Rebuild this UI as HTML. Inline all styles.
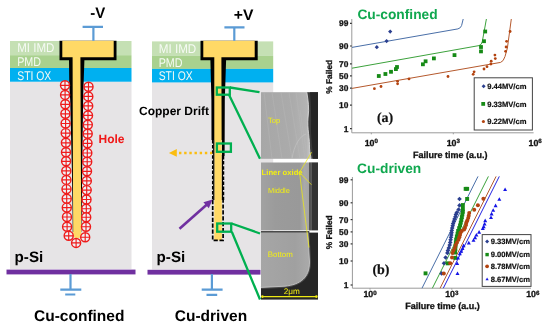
<!DOCTYPE html>
<html><head><meta charset="utf-8">
<style>
html,body{margin:0;padding:0;background:#fff;}
body{width:550px;height:328px;overflow:hidden;}
svg{display:block;font-family:"Liberation Sans",Arial,sans-serif;text-rendering:geometricPrecision;}
.b{font-weight:bold;}
</style></head><body>
<svg width="550" height="328" viewBox="0 0 550 328">
<defs>
<g id="hole"><circle r="4.5" fill="#eff1f6" stroke="#ee1c1c" stroke-width="1.45"/><path d="M-4.5 0H4.5M0 -4.5V4.5" stroke="#ee1c1c" stroke-width="1.15"/></g>
</defs>
<!-- ============ LEFT DIAGRAM ============ -->
<rect x="10" y="81.5" width="121.5" height="187.5" fill="#e6e4e6"/>
<rect x="10" y="41" width="121.5" height="14.2" fill="#c5e0b4"/>
<rect x="10" y="55.2" width="121.5" height="12.8" fill="#a9d18e"/>
<rect x="10" y="68" width="121.5" height="13.7" fill="#00b0f0"/>
<g font-size="12.6" fill="#f6faf4" lengthAdjust="spacingAndGlyphs">
<text x="17.2" y="52.2" textLength="37.3" lengthAdjust="spacingAndGlyphs">MI IMD</text><text x="17.2" y="65.7" textLength="23.9" lengthAdjust="spacingAndGlyphs">PMD</text><text x="17.2" y="79.6" textLength="34.1" lengthAdjust="spacingAndGlyphs">STI OX</text>
</g>
<!-- T -->
<path d="M59.5 40.7H116.5V60.3H84.4L83.2 95L82.2 170L81.7 215L81.3 232H72.7L72.6 215L71.9 170L70.2 100L69.3 85L69 60.3H59.5Z" fill="#000"/>
<path d="M62.3 40.7H113.7V57.2H80.4L80.9 170L81.3 236Q77.2 241 73.2 236L72.9 170L72.6 57.2H62.3Z" fill="#ffd966"/>
<!-- holes left col -->
<g>
<use href="#hole" x="65.0" y="85.3"/><use href="#hole" x="65.1" y="94.9"/><use href="#hole" x="65.3" y="104.3"/><use href="#hole" x="65.4" y="113.8"/><use href="#hole" x="65.6" y="123.5"/><use href="#hole" x="65.7" y="133.1"/><use href="#hole" x="65.9" y="142.8"/><use href="#hole" x="66.0" y="152.3"/><use href="#hole" x="66.1" y="161.3"/><use href="#hole" x="66.3" y="170.9"/><use href="#hole" x="66.4" y="179.9"/><use href="#hole" x="66.5" y="189.1"/><use href="#hole" x="66.7" y="198.7"/><use href="#hole" x="66.8" y="207.6"/><use href="#hole" x="67.0" y="217"/><use href="#hole" x="67.1" y="226.7"/><use href="#hole" x="68.7" y="235.8"/>
</g>
<g>
<use href="#hole" x="88.5" y="86.8"/><use href="#hole" x="88.3" y="96.4"/><use href="#hole" x="88.2" y="105.9"/><use href="#hole" x="88.0" y="115.4"/><use href="#hole" x="87.8" y="124.7"/><use href="#hole" x="87.7" y="133.8"/><use href="#hole" x="87.5" y="143.3"/><use href="#hole" x="87.3" y="153"/><use href="#hole" x="87.2" y="161.7"/><use href="#hole" x="87.0" y="171.3"/><use href="#hole" x="86.8" y="180.9"/><use href="#hole" x="86.7" y="190.1"/><use href="#hole" x="86.5" y="199.5"/><use href="#hole" x="86.3" y="208.7"/><use href="#hole" x="86.2" y="217.2"/><use href="#hole" x="86.0" y="226.7"/><use href="#hole" x="85.2" y="237.2"/>
</g>
<use href="#hole" x="76.1" y="242.9"/>
<text x="98.5" y="142.8" font-size="12" class="b" fill="#f01818">Hole</text>
<!-- voltage -->
<text x="90.2" y="18.2" font-size="15.4" class="b" fill="#000" textLength="15" lengthAdjust="spacingAndGlyphs">-V</text>
<path d="M82.6 26.9H103M93.4 27V40.7" stroke="#5b9bd5" stroke-width="2.2" fill="none"/>
<text x="14.6" y="262.3" font-size="15.2" class="b" fill="#000">p-Si</text>
<rect x="6.5" y="269.6" width="129" height="4.8" fill="#7030a0"/>
<path d="M70.5 274V289.6M60.3 289.6H81.3M65.2 294.5H75.3" stroke="#5b9bd5" stroke-width="2.2" fill="none"/>
<text x="34" y="321" font-size="15.5" class="b" fill="#000">Cu-confined</text>

<!-- ============ MIDDLE DIAGRAM ============ -->
<rect x="152" y="82.2" width="121.2" height="187.3" fill="#e6e4e6"/>
<rect x="152" y="41.4" width="121.2" height="14.5" fill="#c5e0b4"/>
<rect x="152" y="55.9" width="121.2" height="13" fill="#a9d18e"/>
<rect x="152" y="68.9" width="121.2" height="13.5" fill="#00b0f0"/>
<g font-size="12.6" fill="#f6faf4">
<text x="158.7" y="52.9" textLength="37.6" lengthAdjust="spacingAndGlyphs">MI IMD</text><text x="158.7" y="66.6" textLength="23.9" lengthAdjust="spacingAndGlyphs">PMD</text><text x="158.7" y="80.4" textLength="34" lengthAdjust="spacingAndGlyphs">STI OX</text>
</g>
<path d="M200.5 40.7H257.7V60.3H226.1L224.8 100L224.6 156H221.9V140H211.5L211.4 100L210.4 60.3H200.5Z" fill="#000"/>
<path d="M203.3 40.7H254.7V57.2H221.4L221.9 240.3H214.3L214.3 57.2H203.3Z" fill="#ffd966"/>
<path d="M213.75 140V200M222.45 155V200" stroke="#000" stroke-width="1.2" fill="none"/>
<path d="M212.6 140V200M223.6 156V200" stroke="#000" stroke-width="1.3" stroke-dasharray="3.5 1.6" fill="none"/>
<path d="M212.7 200V240.4H223.1V200" fill="none" stroke="#000" stroke-width="1.7" stroke-dasharray="4.2 1.7"/>
<text x="233.8" y="19.9" font-size="15.3" class="b" fill="#000" textLength="19.6" lengthAdjust="spacingAndGlyphs">+V</text>
<path d="M224.4 27.3H244.5M234.3 27.4V40.7" stroke="#5b9bd5" stroke-width="2.2" fill="none"/>
<text x="139" y="114.5" font-size="12" class="b" fill="#000">Copper Drift</text>
<!-- orange dotted arrow -->
<path d="M179 153H212.2" stroke="#fbbd10" stroke-width="2.4" stroke-dasharray="2.4 2.77" fill="none"/>
<path d="M168.9 153L176.8 149.1V156.7Z" fill="#fbbd10"/>
<!-- purple arrow -->
<path d="M179.5 228.8L207.5 204" stroke="#7030a0" stroke-width="2.6" fill="none"/>
<path d="M212.6 199.5L203.4 202.2L208.8 208.2Z" fill="#7030a0"/>
<text x="156.6" y="262.3" font-size="15.2" class="b" fill="#000">p-Si</text>
<rect x="147.5" y="269.8" width="113" height="4.8" fill="#7030a0"/>
<path d="M211.9 274V289.6M201.7 289.6H222.6M206.5 294.8H217.2" stroke="#5b9bd5" stroke-width="2.2" fill="none"/>
<text x="174.8" y="321" font-size="15.5" class="b" fill="#000">Cu-driven</text>

<!-- SEM -->
<g id="sem">
<defs>
<linearGradient id="g1" x1="0" x2="1" y1="0" y2="0"><stop offset="0" stop-color="#a7a7a7"/><stop offset="0.55" stop-color="#ababab"/><stop offset="0.8" stop-color="#b4b4b4"/><stop offset="0.86" stop-color="#c6c6c6"/></linearGradient>
<linearGradient id="g2" x1="0" x2="1" y1="0" y2="0"><stop offset="0" stop-color="#a2a2a2"/><stop offset="0.25" stop-color="#9b9b9b"/><stop offset="0.68" stop-color="#999999"/><stop offset="0.76" stop-color="#aaaaaa"/><stop offset="0.84" stop-color="#a4a4a4"/></linearGradient>
<linearGradient id="g3" x1="0" x2="1" y1="0" y2="0"><stop offset="0" stop-color="#a6a6a6"/><stop offset="0.7" stop-color="#a0a0a0"/><stop offset="1" stop-color="#aaaaaa"/></linearGradient>
</defs>
<rect x="261" y="92.2" width="57" height="66.6" fill="url(#g1)"/>
<path d="M264 92.2L272 158.8M272 92.2L282 158.8M281 92.2L292 158.8M289 92.2L300 158.8M296 92.2L305 158.8M300 110L306 150" stroke="#bababa" stroke-width="0.7" opacity="0.6" fill="none"/>
<path d="M292 158.8C294 145 300 136 306 134" stroke="#c8c8c8" stroke-width="0.8" fill="none" opacity="0.7"/>
<path d="M306.8 92.2C308 100 309.5 108 308 118C307 128 310 140 309.5 148C309.8 153 311 156 311 158.8H318V92.2Z" fill="#3c3c3c"/>
<path d="M310 92.2C311 105 311.5 118 311 130C311.5 145 313 152 313 158.8H318V92.2Z" fill="#252525"/>
<path d="M306.8 92.2C308 100 309.5 108 308 118C307 128 310 140 309.5 148C309.8 153 311 156 311 158.8" stroke="#d8d8d8" stroke-width="0.9" fill="none"/>
<rect x="261" y="162.5" width="57" height="67.8" fill="url(#g2)"/>
<rect x="309" y="162.5" width="2.6" height="67.8" fill="#545454"/>
<rect x="311.6" y="162.5" width="6.4" height="67.8" fill="#333"/>
<rect x="261" y="232.6" width="57" height="67" fill="#262626"/>
<path d="M261 232.6H307.8L309.5 262C309.5 278 300 284.5 285 286.2L261 287.4" fill="none" stroke="#4a4a4a" stroke-width="3.2"/>
<path d="M261 232.6H307.8L309.5 262C309.5 278 300 284.5 285 286.2L261 287.4Z" fill="url(#g3)"/>
<path d="M307.8 232.6L309.5 262C309.5 278 300 284.5 285 286.2L261 287.4" stroke="#c4c4c4" stroke-width="0.9" fill="none"/>
<g fill="#f2ee14" font-size="7">
<text x="268" y="123.2" font-size="7.6">Top</text>
<text x="268" y="193.1" font-size="7.4">Middle</text>
<text x="267.8" y="256.8" font-size="7.9">Bottom</text>
<text x="261.6" y="174.6" font-size="7.7" class="b">Liner oxide</text>
<text x="283.7" y="294.4" font-size="8.2">2μm</text>
</g>
<path d="M299.5 172.5L311.6 152.2M299.5 172.5L311.4 184.7M299.5 172.5L309 247.5" stroke="#eeea14" stroke-width="0.75" fill="none"/>
<path d="M262 296.6H316.8" stroke="#eeea14" stroke-width="1.3"/>
<circle cx="262.4" cy="296.6" r="1.3" fill="#eeea14"/><circle cx="316.4" cy="296.6" r="1.3" fill="#eeea14"/>
</g>
<!-- green zoom squares & lines -->
<g stroke="#00b050" stroke-width="2.3" fill="none">
<rect x="216.8" y="87.5" width="13" height="7.2"/>
<rect x="216.9" y="143.5" width="14" height="8.3"/>
<rect x="217.2" y="223.5" width="14" height="8.2"/>
<path d="M230 87.5L259.5 92.2M229 94.7L260 158.7M231.6 223.5L260 233.5M231.8 231.7L260 299.5"/>
</g>

<!-- ============ CHART A ============ -->
<text x="357.4" y="18.8" font-size="13.75" class="b" fill="#10a84f">Cu-confined</text>
<!--CHART-->
<path d="M351.8 19V132.8H533.6" stroke="#9a9a9a" stroke-width="1" fill="none"/>
<path d="M350.0 23.4H351.8" stroke="#333" stroke-width="1.2"/>
<text x="348.3" y="26.299999999999997" font-size="8.4" text-anchor="end" fill="#111" font-weight="bold" stroke="#111" stroke-width="0.3">99</text>
<path d="M350.0 46H351.8" stroke="#333" stroke-width="1.2"/>
<text x="348.3" y="48.9" font-size="8.4" text-anchor="end" fill="#111" font-weight="bold" stroke="#111" stroke-width="0.3">90</text>
<path d="M350.0 63.8H351.8" stroke="#333" stroke-width="1.2"/>
<text x="348.3" y="66.7" font-size="8.4" text-anchor="end" fill="#111" font-weight="bold" stroke="#111" stroke-width="0.3">70</text>
<path d="M350.0 75.8H351.8" stroke="#333" stroke-width="1.2"/>
<text x="348.3" y="78.7" font-size="8.4" text-anchor="end" fill="#111" font-weight="bold" stroke="#111" stroke-width="0.3">50</text>
<path d="M350.0 88.2H351.8" stroke="#333" stroke-width="1.2"/>
<text x="348.3" y="91.10000000000001" font-size="8.4" text-anchor="end" fill="#111" font-weight="bold" stroke="#111" stroke-width="0.3">30</text>
<path d="M350.0 105.1H351.8" stroke="#333" stroke-width="1.2"/>
<text x="348.3" y="108.0" font-size="8.4" text-anchor="end" fill="#111" font-weight="bold" stroke="#111" stroke-width="0.3">10</text>
<path d="M350.0 128.6H351.8" stroke="#333" stroke-width="1.2"/>
<text x="348.3" y="131.5" font-size="8.4" text-anchor="end" fill="#111" font-weight="bold" stroke="#111" stroke-width="0.3">1</text>
<path d="M371.3 132.8V134.3" stroke="#9a9a9a" stroke-width="1"/>
<text x="371.3" y="145.6" font-size="8.8" text-anchor="middle" fill="#111" font-weight="bold" stroke="#111" stroke-width="0.3">10<tspan font-size="6.2" dy="-2.7">0</tspan></text>
<path d="M453.3 132.8V134.3" stroke="#9a9a9a" stroke-width="1"/>
<text x="453.3" y="145.6" font-size="8.8" text-anchor="middle" fill="#111" font-weight="bold" stroke="#111" stroke-width="0.3">10<tspan font-size="6.2" dy="-2.7">3</tspan></text>
<text x="535.2" y="145.6" font-size="8.8" text-anchor="middle" fill="#111" font-weight="bold" stroke="#111" stroke-width="0.3">10<tspan font-size="6.2" dy="-2.7">6</tspan></text>
<path d="M352 47.4L457.9 28.9Q460.8 28.2 461.6 25.5L463.2 19" stroke="#4a6fa8" stroke-width="1" fill="none"/>
<path d="M352 68.2L479 45.6Q481.6 45 482.3 41.5L486.4 19" stroke="#3ca23c" stroke-width="1" fill="none"/>
<path d="M352 88.4L500.6 62.4Q503.5 61.5 505 56.5L507.4 48L511.3 19" stroke="#b5592d" stroke-width="1" fill="none"/>
<path d="M376.8 45.1L378.9 47.2L376.8 49.3L374.7 47.2Z" fill="#2b3f8f"/>
<path d="M386.6 39.0L388.7 41.1L386.6 43.2L384.5 41.1Z" fill="#2b3f8f"/>
<path d="M390.2 29.5L392.3 31.6L390.2 33.7L388.1 31.6Z" fill="#2b3f8f"/>
<rect x="376.9" y="74.1" width="3.8" height="3.8" fill="#168a16"/>
<rect x="383.5" y="72.1" width="3.8" height="3.8" fill="#168a16"/>
<rect x="389.1" y="69.9" width="3.8" height="3.8" fill="#168a16"/>
<rect x="394.0" y="67.2" width="3.8" height="3.8" fill="#168a16"/>
<rect x="395.1" y="65.1" width="3.8" height="3.8" fill="#168a16"/>
<rect x="421.0" y="62.4" width="3.8" height="3.8" fill="#168a16"/>
<rect x="423.7" y="59.4" width="3.8" height="3.8" fill="#168a16"/>
<rect x="432.0" y="56.5" width="3.8" height="3.8" fill="#168a16"/>
<rect x="452.6" y="53.2" width="3.8" height="3.8" fill="#168a16"/>
<rect x="479.1" y="49.5" width="3.8" height="3.8" fill="#168a16"/>
<rect x="479.1" y="45.1" width="3.8" height="3.8" fill="#168a16"/>
<rect x="482.1" y="39.3" width="3.8" height="3.8" fill="#168a16"/>
<rect x="483.3" y="29.6" width="3.8" height="3.8" fill="#168a16"/>
<circle cx="374.4" cy="88.7" r="1.4" fill="#b3430f"/>
<circle cx="381.0" cy="86.5" r="1.4" fill="#b3430f"/>
<circle cx="397.6" cy="83.8" r="1.4" fill="#b3430f"/>
<circle cx="397.6" cy="81.3" r="1.4" fill="#b3430f"/>
<circle cx="409.0" cy="78.9" r="1.4" fill="#b3430f"/>
<circle cx="448.0" cy="76.5" r="1.4" fill="#b3430f"/>
<circle cx="473.2" cy="74.3" r="1.4" fill="#b3430f"/>
<circle cx="474.1" cy="71.8" r="1.4" fill="#b3430f"/>
<circle cx="484.0" cy="69.0" r="1.4" fill="#b3430f"/>
<circle cx="487.0" cy="66.7" r="1.4" fill="#b3430f"/>
<circle cx="490.9" cy="64.0" r="1.4" fill="#b3430f"/>
<circle cx="491.2" cy="61.2" r="1.4" fill="#b3430f"/>
<circle cx="495.3" cy="58.6" r="1.4" fill="#b3430f"/>
<circle cx="494.9" cy="55.1" r="1.4" fill="#b3430f"/>
<circle cx="505.6" cy="51.3" r="1.4" fill="#b3430f"/>
<circle cx="506.1" cy="47.0" r="1.4" fill="#b3430f"/>
<circle cx="506.6" cy="41.3" r="1.4" fill="#b3430f"/>
<circle cx="510.1" cy="31.5" r="1.4" fill="#b3430f"/>
<rect x="474.2" y="77.8" width="58.2" height="52.2" fill="#fff" stroke="#444" stroke-width="1"/>
<path d="M483.6 84.3L485.6 86.3L483.6 88.3L481.6 86.3Z" fill="#2b3f8f"/>
<rect x="481.3" y="102.0" width="3.8" height="3.8" fill="#168a16"/>
<circle cx="483.4" cy="121.5" r="1.55" fill="#b3430f"/>
<text x="487.2" y="89" font-size="7.6" text-anchor="start" fill="#111" font-weight="bold" stroke="#111" stroke-width="0.2">9.44MV/cm</text>
<text x="487.2" y="106.6" font-size="7.6" text-anchor="start" fill="#111" font-weight="bold" stroke="#111" stroke-width="0.2">9.33MV/cm</text>
<text x="487.2" y="124.2" font-size="7.6" text-anchor="start" fill="#111" font-weight="bold" stroke="#111" stroke-width="0.2">9.22MV/cm</text>
<text x="376.9" y="121.8" font-size="14" text-anchor="start" fill="#111" font-weight="bold" stroke="#111" stroke-width="0.2" font-family="Liberation Serif,serif">(a)</text>
<text x="450.2" y="157.8" font-size="9" text-anchor="middle" fill="#111" font-weight="bold" stroke="#111" stroke-width="0.3">Failure time (a.u.)</text>
<text transform="translate(332.2 76.8) rotate(-90)" font-size="8.4" text-anchor="middle" fill="#111" font-weight="bold" stroke="#111" stroke-width="0.3">% Failed</text>
<text x="357.1" y="173.4" font-size="13.75" text-anchor="start" fill="#10a84f" font-weight="bold">Cu-driven</text>
<path d="M352.4 177V288.2H531" stroke="#9a9a9a" stroke-width="1" fill="none"/>
<path d="M350.59999999999997 179.8H352.4" stroke="#333" stroke-width="1.2"/>
<text x="348.3" y="182.70000000000002" font-size="8.4" text-anchor="end" fill="#111" font-weight="bold" stroke="#111" stroke-width="0.3">99</text>
<path d="M350.59999999999997 202.8H352.4" stroke="#333" stroke-width="1.2"/>
<text x="348.3" y="205.70000000000002" font-size="8.4" text-anchor="end" fill="#111" font-weight="bold" stroke="#111" stroke-width="0.3">90</text>
<path d="M350.59999999999997 219.6H352.4" stroke="#333" stroke-width="1.2"/>
<text x="348.3" y="222.5" font-size="8.4" text-anchor="end" fill="#111" font-weight="bold" stroke="#111" stroke-width="0.3">70</text>
<path d="M350.59999999999997 231.9H352.4" stroke="#333" stroke-width="1.2"/>
<text x="348.3" y="234.8" font-size="8.4" text-anchor="end" fill="#111" font-weight="bold" stroke="#111" stroke-width="0.3">50</text>
<path d="M350.59999999999997 243.9H352.4" stroke="#333" stroke-width="1.2"/>
<text x="348.3" y="246.8" font-size="8.4" text-anchor="end" fill="#111" font-weight="bold" stroke="#111" stroke-width="0.3">30</text>
<path d="M350.59999999999997 261H352.4" stroke="#333" stroke-width="1.2"/>
<text x="348.3" y="263.9" font-size="8.4" text-anchor="end" fill="#111" font-weight="bold" stroke="#111" stroke-width="0.3">10</text>
<path d="M350.59999999999997 285H352.4" stroke="#333" stroke-width="1.2"/>
<text x="348.3" y="287.9" font-size="8.4" text-anchor="end" fill="#111" font-weight="bold" stroke="#111" stroke-width="0.3">1</text>
<path d="M370 288.2V289.7" stroke="#9a9a9a" stroke-width="1"/>
<text x="370" y="297.2" font-size="8.8" text-anchor="middle" fill="#111" font-weight="bold" stroke="#111" stroke-width="0.3">10<tspan font-size="6.2" dy="-2.7">0</tspan></text>
<path d="M451.8 288.2V289.7" stroke="#9a9a9a" stroke-width="1"/>
<text x="451.8" y="297.2" font-size="8.8" text-anchor="middle" fill="#111" font-weight="bold" stroke="#111" stroke-width="0.3">10<tspan font-size="6.2" dy="-2.7">3</tspan></text>
<text x="532.8" y="297.2" font-size="8.8" text-anchor="middle" fill="#111" font-weight="bold" stroke="#111" stroke-width="0.3">10<tspan font-size="6.2" dy="-2.7">6</tspan></text>
<path d="M422 288.2L478.0 176.4" stroke="#4a6fa8" stroke-width="1" fill="none"/>
<path d="M432.4 288.2L488.4 176.4" stroke="#3ca23c" stroke-width="1" fill="none"/>
<path d="M440.1 288.2L496.1 176.4" stroke="#b5592d" stroke-width="1" fill="none"/>
<path d="M443.3 288.2L499.3 176.4" stroke="#2424e0" stroke-width="1" fill="none"/>
<path d="M459.5 196.7L461.8 199.0L459.5 201.3L457.2 199.0Z" fill="#2b3f8f"/>
<path d="M459.5 203.1L461.8 205.4L459.5 207.7L457.2 205.4Z" fill="#2b3f8f"/>
<path d="M458.6 207.3L460.9 209.6L458.6 211.9L456.3 209.6Z" fill="#2b3f8f"/>
<path d="M456.8 210.3L459.1 212.6L456.8 214.9L454.5 212.6Z" fill="#2b3f8f"/>
<path d="M455.9 212.1L458.2 214.4L455.9 216.7L453.6 214.4Z" fill="#2b3f8f"/>
<path d="M455.4 214.4L457.7 216.7L455.4 219.0L453.1 216.7Z" fill="#2b3f8f"/>
<path d="M454.5 216.7L456.8 219.0L454.5 221.3L452.2 219.0Z" fill="#2b3f8f"/>
<path d="M453.9 219.0L456.2 221.3L453.9 223.6L451.6 221.3Z" fill="#2b3f8f"/>
<path d="M453.1 221.3L455.4 223.6L453.1 225.9L450.8 223.6Z" fill="#2b3f8f"/>
<path d="M452.7 223.5L455.0 225.8L452.7 228.1L450.4 225.8Z" fill="#2b3f8f"/>
<path d="M452.2 225.8L454.5 228.1L452.2 230.4L449.9 228.1Z" fill="#2b3f8f"/>
<path d="M451.8 228.1L454.1 230.4L451.8 232.7L449.5 230.4Z" fill="#2b3f8f"/>
<path d="M451.6 230.4L453.9 232.7L451.6 235.0L449.3 232.7Z" fill="#2b3f8f"/>
<path d="M451.3 232.7L453.6 235.0L451.3 237.3L449.0 235.0Z" fill="#2b3f8f"/>
<path d="M451.0 235.0L453.3 237.3L451.0 239.6L448.7 237.3Z" fill="#2b3f8f"/>
<path d="M450.6 237.5L452.9 239.8L450.6 242.1L448.3 239.8Z" fill="#2b3f8f"/>
<path d="M450.2 240.1L452.5 242.4L450.2 244.7L447.9 242.4Z" fill="#2b3f8f"/>
<path d="M449.7 242.8L452.0 245.1L449.7 247.4L447.4 245.1Z" fill="#2b3f8f"/>
<path d="M448.8 245.6L451.1 247.9L448.8 250.2L446.5 247.9Z" fill="#2b3f8f"/>
<path d="M447.9 248.3L450.2 250.6L447.9 252.9L445.6 250.6Z" fill="#2b3f8f"/>
<path d="M447.4 250.6L449.7 252.9L447.4 255.2L445.1 252.9Z" fill="#2b3f8f"/>
<path d="M445.6 255.2L447.9 257.5L445.6 259.8L443.3 257.5Z" fill="#2b3f8f"/>
<path d="M444.0 261.0L446.3 263.3L444.0 265.6L441.7 263.3Z" fill="#2b3f8f"/>
<path d="M441.6 271.1L443.9 273.4L441.6 275.7L439.3 273.4Z" fill="#2b3f8f"/>
<rect x="463.7" y="186.9" width="3.9" height="3.9" fill="#168a16"/>
<rect x="465.2" y="186.9" width="3.9" height="3.9" fill="#168a16"/>
<rect x="465.2" y="197.0" width="3.9" height="3.9" fill="#168a16"/>
<rect x="460.9" y="203.1" width="3.9" height="3.9" fill="#168a16"/>
<rect x="460.9" y="207.0" width="3.9" height="3.9" fill="#168a16"/>
<rect x="460.9" y="209.8" width="3.9" height="3.9" fill="#168a16"/>
<rect x="460.4" y="212.5" width="3.9" height="3.9" fill="#168a16"/>
<rect x="459.9" y="215.2" width="3.9" height="3.9" fill="#168a16"/>
<rect x="459.4" y="218.0" width="3.9" height="3.9" fill="#168a16"/>
<rect x="458.8" y="220.7" width="3.9" height="3.9" fill="#168a16"/>
<rect x="458.1" y="223.5" width="3.9" height="3.9" fill="#168a16"/>
<rect x="457.2" y="226.2" width="3.9" height="3.9" fill="#168a16"/>
<rect x="456.2" y="229.0" width="3.9" height="3.9" fill="#168a16"/>
<rect x="455.6" y="231.7" width="3.9" height="3.9" fill="#168a16"/>
<rect x="454.9" y="234.5" width="3.9" height="3.9" fill="#168a16"/>
<rect x="454.2" y="237.6" width="3.9" height="3.9" fill="#168a16"/>
<rect x="453.9" y="240.6" width="3.9" height="3.9" fill="#168a16"/>
<rect x="453.6" y="243.6" width="3.9" height="3.9" fill="#168a16"/>
<rect x="453.4" y="247.1" width="3.9" height="3.9" fill="#168a16"/>
<rect x="453.2" y="250.6" width="3.9" height="3.9" fill="#168a16"/>
<rect x="453.2" y="255.9" width="3.9" height="3.9" fill="#168a16"/>
<rect x="445.7" y="261.4" width="3.9" height="3.9" fill="#168a16"/>
<rect x="423.6" y="271.4" width="3.9" height="3.9" fill="#168a16"/>
<circle cx="483.4" cy="198.8" r="2.0" fill="#b3430f"/>
<circle cx="477.9" cy="205.3" r="2.0" fill="#b3430f"/>
<circle cx="474.2" cy="209.8" r="2.0" fill="#b3430f"/>
<circle cx="469.2" cy="213.0" r="2.0" fill="#b3430f"/>
<circle cx="468.7" cy="215.8" r="2.0" fill="#b3430f"/>
<circle cx="468.2" cy="218.1" r="2.0" fill="#b3430f"/>
<circle cx="467.3" cy="220.4" r="2.0" fill="#b3430f"/>
<circle cx="466.4" cy="222.6" r="2.0" fill="#b3430f"/>
<circle cx="466.0" cy="224.9" r="2.0" fill="#b3430f"/>
<circle cx="465.0" cy="227.7" r="2.0" fill="#b3430f"/>
<circle cx="464.1" cy="229.5" r="2.0" fill="#b3430f"/>
<circle cx="461.8" cy="230.9" r="2.0" fill="#b3430f"/>
<circle cx="460.5" cy="232.7" r="2.0" fill="#b3430f"/>
<circle cx="460.0" cy="235.0" r="2.0" fill="#b3430f"/>
<circle cx="459.3" cy="237.3" r="2.0" fill="#b3430f"/>
<circle cx="458.5" cy="239.7" r="2.0" fill="#b3430f"/>
<circle cx="457.0" cy="242.4" r="2.0" fill="#b3430f"/>
<circle cx="455.7" cy="245.1" r="2.0" fill="#b3430f"/>
<circle cx="454.8" cy="247.9" r="2.0" fill="#b3430f"/>
<circle cx="453.4" cy="250.6" r="2.0" fill="#b3430f"/>
<circle cx="452.5" cy="252.9" r="2.0" fill="#b3430f"/>
<circle cx="452.0" cy="257.5" r="2.0" fill="#b3430f"/>
<circle cx="450.2" cy="263.2" r="2.0" fill="#b3430f"/>
<circle cx="443.8" cy="273.4" r="2.0" fill="#b3430f"/>
<path d="M505.1 187.5L507.1 191.1L503.1 191.1Z" fill="#1515e6"/>
<path d="M499.3 197.2L501.3 200.8L497.3 200.8Z" fill="#1515e6"/>
<path d="M495.6 203.6L497.6 207.2L493.6 207.2Z" fill="#1515e6"/>
<path d="M493.2 208.2L495.2 211.8L491.2 211.8Z" fill="#1515e6"/>
<path d="M491.6 211.8L493.6 215.4L489.6 215.4Z" fill="#1515e6"/>
<path d="M491.0 215.5L493.0 219.1L489.0 219.1Z" fill="#1515e6"/>
<path d="M485.2 218.6L487.2 222.2L483.2 222.2Z" fill="#1515e6"/>
<path d="M484.6 221.9L486.6 225.5L482.6 225.5Z" fill="#1515e6"/>
<path d="M483.7 224.6L485.7 228.2L481.7 228.2Z" fill="#1515e6"/>
<path d="M482.8 226.5L484.8 230.1L480.8 230.1Z" fill="#1515e6"/>
<path d="M479.1 230.1L481.1 233.7L477.1 233.7Z" fill="#1515e6"/>
<path d="M476.4 232.9L478.4 236.5L474.4 236.5Z" fill="#1515e6"/>
<path d="M475.1 235.6L477.1 239.2L473.1 239.2Z" fill="#1515e6"/>
<path d="M473.5 238.2L475.5 241.8L471.5 241.8Z" fill="#1515e6"/>
<path d="M468.8 240.8L470.8 244.4L466.8 244.4Z" fill="#1515e6"/>
<path d="M463.6 243.6L465.6 247.2L461.6 247.2Z" fill="#1515e6"/>
<path d="M462.5 246.4L464.5 250.0L460.5 250.0Z" fill="#1515e6"/>
<path d="M461.2 249.1L463.2 252.7L459.2 252.7Z" fill="#1515e6"/>
<path d="M459.8 251.6L461.8 255.2L457.8 255.2Z" fill="#1515e6"/>
<path d="M458.0 256.0L460.0 259.6L456.0 259.6Z" fill="#1515e6"/>
<path d="M457.2 261.4L459.2 265.0L455.2 265.0Z" fill="#1515e6"/>
<path d="M457.5 271.4L459.5 275.0L455.5 275.0Z" fill="#1515e6"/>
<rect x="482.2" y="234.6" width="48.8" height="51.8" fill="#fff" stroke="#444" stroke-width="1"/>
<path d="M487.1 239.5L489.1 241.5L487.1 243.5L485.1 241.5Z" fill="#2b3f8f"/>
<rect x="485.4" y="252.9" width="3.4" height="3.4" fill="#168a16"/>
<circle cx="487.1" cy="266.3" r="1.9" fill="#b3430f"/>
<path d="M487.1 277.4L488.7 280.3L485.5 280.3Z" fill="#1515e6"/>
<text x="490.7" y="244.2" font-size="7.6" text-anchor="start" fill="#111" font-weight="bold" stroke="#111" stroke-width="0.2">9.33MV/cm</text>
<text x="490.7" y="257.3" font-size="7.6" text-anchor="start" fill="#111" font-weight="bold" stroke="#111" stroke-width="0.2">9.00MV/cm</text>
<text x="490.7" y="269" font-size="7.6" text-anchor="start" fill="#111" font-weight="bold" stroke="#111" stroke-width="0.2">8.78MV/cm</text>
<text x="490.7" y="281.7" font-size="7.6" text-anchor="start" fill="#111" font-weight="bold" stroke="#111" stroke-width="0.2">8.67MV/cm</text>
<text x="372.4" y="273.9" font-size="14" text-anchor="start" fill="#111" font-weight="bold" stroke="#111" stroke-width="0.2" font-family="Liberation Serif,serif">(b)</text>
<text x="442.6" y="308.9" font-size="9" text-anchor="middle" fill="#111" font-weight="bold" stroke="#111" stroke-width="0.3">Failure time (a.u.)</text>
<text transform="translate(331.6 232.3) rotate(-90)" font-size="8.4" text-anchor="middle" fill="#111" font-weight="bold" stroke="#111" stroke-width="0.3">% Failed</text>

<!--/CHART-->
</svg>
</body></html>
